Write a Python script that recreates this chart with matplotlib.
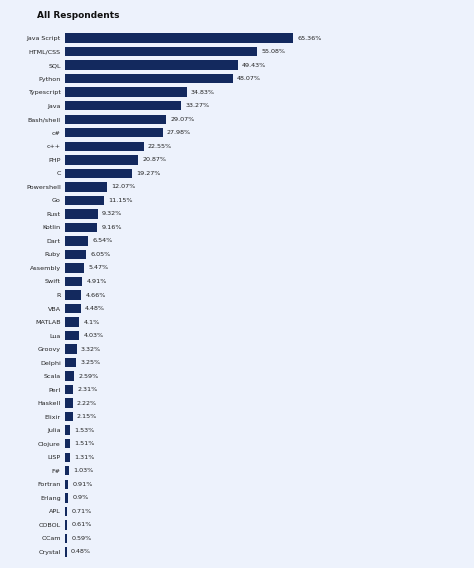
import matplotlib.pyplot as plt

languages = ["Java Script", "HTML/CSS", "SQL", "Python", "Typescript", "Java", "Bash/shell", "c#",
             "c++", "PHP", "C", "Powershell", "Go", "Rust", "Kotlin", "Dart", "Ruby", "Assembly",
             "Swift", "R", "VBA", "MATLAB", "Lua", "Groovy", "Delphi", "Scala", "Perl", "Haskell",
             "Elixir", "Julia", "Clojure", "LISP", "F#", "Fortran", "Erlang", "APL", "COBOL",
             "OCam", "Crystal"]
shares = [65.36, 55.08, 49.43, 48.07, 34.83, 33.27, 29.07, 27.98, 22.55, 20.87, 19.27, 12.07,
          11.15, 9.32, 9.16, 6.54, 6.05, 5.47, 4.91, 4.66, 4.48, 4.1, 4.03, 3.32, 3.25, 2.59,
          2.31, 2.22, 2.15, 1.53, 1.51, 1.31, 1.03, 0.91, 0.9, 0.71, 0.61, 0.59, 0.48]
labels = ["65.36%", "55.08%", "49.43%", "48.07%", "34.83%", "33.27%", "29.07%", "27.98%",
          "22.55%", "20.87%", "19.27%", "12.07%", "11.15%", "9.32%", "9.16%", "6.54%", "6.05%",
          "5.47%", "4.91%", "4.66%", "4.48%", "4.1%", "4.03%", "3.32%", "3.25%", "2.59%",
          "2.31%", "2.22%", "2.15%", "1.53%", "1.51%", "1.31%", "1.03%", "0.91%", "0.9%",
          "0.71%", "0.61%", "0.59%", "0.48%"]

bg = "#edf2fc"
fig = plt.figure(figsize=(4.74, 5.68), dpi=100, facecolor=bg)
ax = fig.add_axes([65 / 474, 8 / 568, 405 / 474, 530 / 568], facecolor=bg)

y = list(range(len(languages)))
ax.barh(y, shares, height=0.7, color="#13295e")
for yi, v, t in zip(y, shares, labels):
    ax.text(v + 1.2, yi, t, va="center", ha="left", fontsize=4.6, color="#222222")

ax.set_yticks(y)
ax.set_yticklabels(languages, fontsize=4.6, color="#222222")
ax.tick_params(axis="y", length=0, pad=3)
ax.set_xticks([])
ax.set_xlim(0, 116)
ax.set_ylim(len(languages) - 0.4, -0.6)
for s in ax.spines.values():
    s.set_visible(False)

fig.text(37 / 474, 1 - 15 / 568, "All Respondents", fontsize=6.5, fontweight="bold",
         va="center", ha="left", color="#111111")

fig.savefig("out.png", dpi=100, facecolor=bg)
